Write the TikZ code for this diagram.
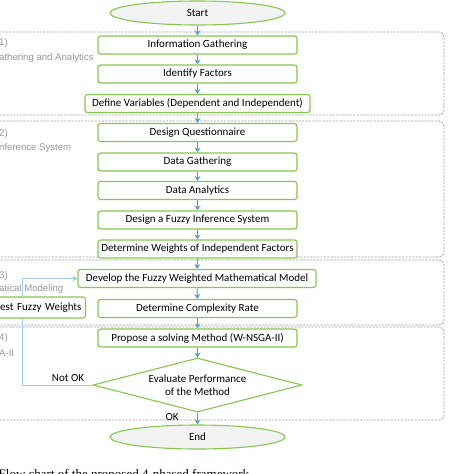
\documentclass[tikz,border=0pt]{standalone}
\usepackage{fontspec}
\setmainfont{Carlito}
\newfontfamily\phasefont{Liberation Sans}
\newfontfamily\capfont{Liberation Serif}
\usepackage{xcolor}
\usetikzlibrary{shapes.geometric,arrows.meta}
\definecolor{boxgreen}{RGB}{134,199,78}
\definecolor{flowblue}{RGB}{91,155,213}
\definecolor{loopblue}{RGB}{165,200,232}
\definecolor{dashgray}{RGB}{160,160,160}
\definecolor{phasegray}{RGB}{150,150,150}
\definecolor{termfill}{RGB}{242,242,242}
\tikzset{
  stepbox/.style={draw=boxgreen, line width=1.1pt, rounded corners=2.5pt, fill=white,
    minimum width=199, minimum height=18, inner sep=1pt, font=\fontsize{11}{13}\selectfont},
  termnode/.style={ellipse, draw=boxgreen, line width=1.1pt, fill=termfill,
    minimum width=175, minimum height=24, inner sep=0pt, font=\fontsize{11}{13}\selectfont},
  decnode/.style={diamond, draw=boxgreen, line width=1.1pt, fill=white, align=center,
    shape aspect=3.9, minimum width=209, minimum height=54, inner sep=0pt,
    font=\fontsize{11}{13}\selectfont},
  phasebox/.style={draw=dashgray, dash pattern=on 2.2pt off 1.2pt, line width=0.8pt, rounded corners=5pt},
  phaselbl/.style={anchor=west, inner sep=0pt, text=phasegray, font=\phasefont\fontsize{9.6}{11}\selectfont},
  flow/.style={->, draw=flowblue, line width=1pt},
  loopline/.style={draw=loopblue, line width=0.9pt}
}
\begin{document}
\begin{tikzpicture}[>={Stealth[length=5pt,width=6pt]}, x=1pt, y=-1pt]
\useasboundingbox (0,0) rectangle (474,474);
\clip (0,0) rectangle (474,474);

% phases
\draw[phasebox] (-20,32) rectangle (444,115);
\draw[phasebox] (-20,121) rectangle (444,257);
\draw[phasebox] (-20,260) rectangle (444,325);
\draw[phasebox] (-20,327) rectangle (444,420);

\node[phaselbl] (p1) at (-1,43) {1)};
\node[phaselbl] (p1b) at (-1,58) {athering and Analytics};
\node[phaselbl] (p2) at (-1,134) {2)};
\node[phaselbl] (p2b) at (-1,148) {nference System};
\node[phaselbl] (p3) at (-1,276) {3)};
\node[phaselbl] (p3b) at (-1,289) {atical Modeling};
\node[phaselbl] (p4) at (-1,338) {4)};
\node[phaselbl] (p4b) at (-1,353) {A-II};

% steps
\node[termnode] (start) at (197.5,13) {Start};
\node[stepbox] (info) at (197.5,45) {Information Gathering};
\node[stepbox] (ident) at (197.5,74) {Identify Factors};
\node[stepbox, minimum width=225] (vars) at (197.5,103.5) {Define Variables (Dependent and Independent)};
\node[stepbox] (quest) at (197.5,132.5) {Design Questionnaire};
\node[stepbox] (dgath) at (197.5,162) {Data Gathering};
\node[stepbox] (dana) at (197.5,190.5) {Data Analytics};
\node[stepbox] (fis) at (197.5,220) {Design a Fuzzy Inference System};
\node[stepbox] (weights) at (197.5,249) {Determine Weights of Independent Factors};
\node[stepbox, minimum width=238] (model) at (197,278.5) {Develop the Fuzzy Weighted Mathematical Model};
\node[stepbox] (rate) at (197.5,308.5) {Determine Complexity Rate};
\node[stepbox] (solve) at (197.5,338) {Propose a solving Method (W-NSGA-II)};
\node[decnode] (eval) at (197.5,385) {Evaluate Performance\\of the Method};
\node[termnode] (end) at (197.5,437) {End};
\node[stepbox, minimum width=100, minimum height=21, text width=92, align=right, anchor=east] (test) at (86,307.5) {est Fuzzy Weights\hspace*{7pt}};
\coordinate (loopx) at (22,385);

% connectors
\foreach \a/\b in {start/info, info/ident, ident/vars, vars/quest, quest/dgath, dgath/dana,
  dana/fis, fis/weights, weights/model, model/rate, rate/solve, solve/eval, eval/end}
  \draw[flow] (\a) -- (\b);
\draw[loopline] (eval.west) -- (loopx) -- (test.south -| loopx);
\draw[loopline, ->] (test.north -| loopx) |- (model.west);

\node[font=\fontsize{11}{13}\selectfont] (notok) at (68,378) {Not OK};
\node[font=\fontsize{11}{13}\selectfont] (ok) at (172,417) {OK};

% caption
\node[anchor=base west, inner sep=0pt, font=\capfont\fontsize{13}{15}\selectfont] (cap) at (-1.5,478) {Flow chart of the proposed 4-phased framework};
\end{tikzpicture}
\end{document}
